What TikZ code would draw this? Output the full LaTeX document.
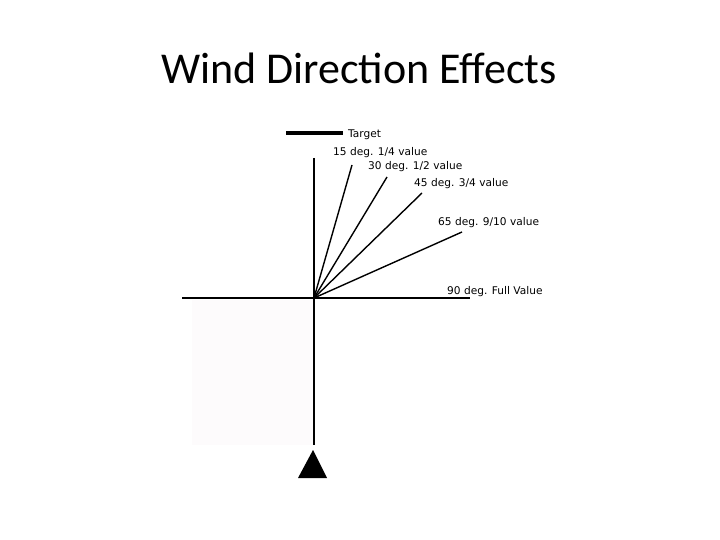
\documentclass[tikz,border=0pt]{standalone}
\usepackage{fontspec}
\setmainfont{Carlito}
\newfontfamily\labelfont{DejaVu Sans}
\usetikzlibrary{calc}
\tikzstyle{Axis}=[draw=black, line width=1.6pt]
\tikzstyle{Ray}=[draw=black, line width=1.4pt]
\tikzstyle{RayLabel}=[anchor=west, inner sep=0pt, font=\labelfont\fontsize{10.6}{12}\selectfont]
\tikzstyle{TitleNode}=[font=\fontsize{44}{48}\selectfont, inner sep=0pt]
\definecolor{paleshade}{RGB}{253,251,252}

\begin{document}
\begin{tikzpicture}[x=1pt, y=-1pt]
\useasboundingbox (0,0) rectangle (720,540);
\node[TitleNode](title) at (359,68) {Wind Direction Effects};

\fill[paleshade] (192,300) rectangle (313,445);

\coordinate (O) at (314,298);
\coordinate (N) at (314,158);
\coordinate (S) at (314,445);
\coordinate (W) at (182,298);
\coordinate (E) at (470,298);
\coordinate (R15) at (352,165);
\coordinate (R30) at (387,177);
\coordinate (R45) at (422,193);
\coordinate (R65) at (462,232);

\draw[Axis](N) -- (S);
\draw[Axis](W) -- (E);
\draw[Ray](O) -- (R15);
\draw[Ray](O) -- (R30);
\draw[Ray](O) -- (R45);
\draw[Ray](O) -- (R65);

% target bar and marker
\draw[line width=4pt](286,133) -- (343,133);
\node[RayLabel](target) at (348,135) {Target};
\fill (313,450) -- (327,478) -- (298,478) -- cycle;

\node[RayLabel](L15) at (333,153) {15 deg. 1/4 value};
\node[RayLabel](L30) at (368,167) {30 deg. 1/2 value};
\node[RayLabel](L45) at (414,184) {45 deg. 3/4 value};
\node[RayLabel](L65) at (438,223) {65 deg. 9/10 value};
\node[RayLabel](L90) at (447,292) {90 deg. Full Value};
\end{tikzpicture}
\end{document}
